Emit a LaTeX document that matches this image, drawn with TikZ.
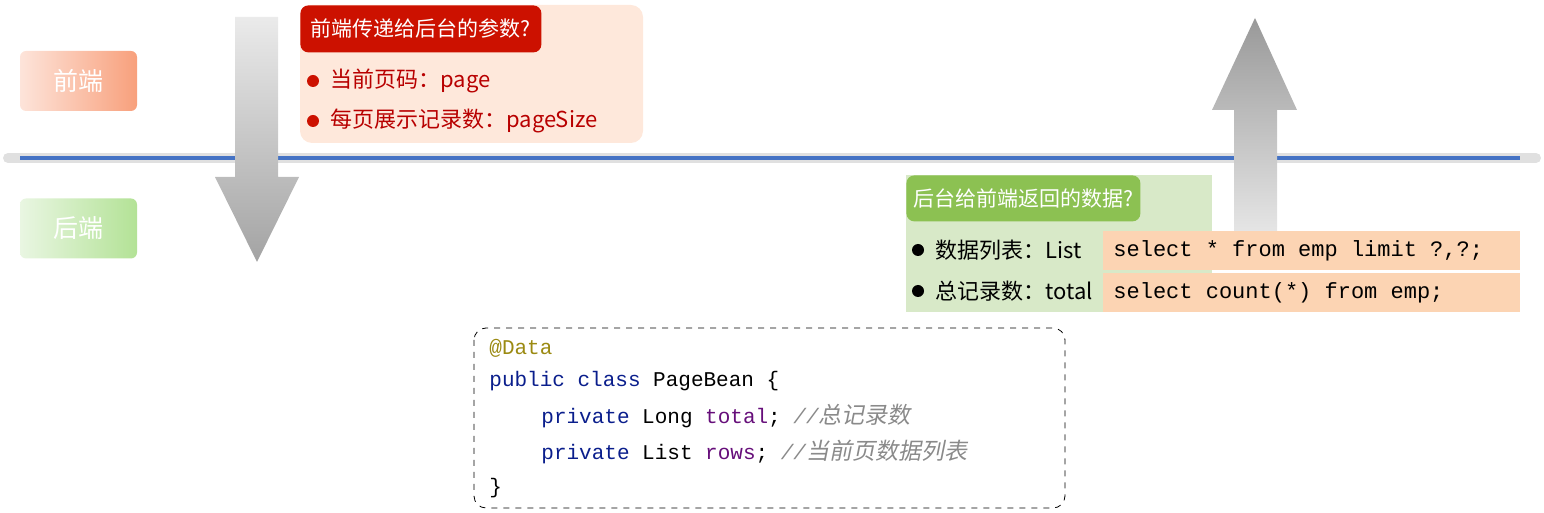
\documentclass[tikz,border=0pt]{standalone}
\usepackage{fontspec}
\setmainfont{Noto Sans CJK SC}
\newfontfamily\codefont{Liberation Mono}
\newfontfamily\cmtfont[FakeSlant=0.2]{Noto Sans CJK SC}
\usetikzlibrary{positioning}

\definecolor{frontL}{HTML}{FDE4DA}
\definecolor{frontR}{HTML}{F8A07C}
\definecolor{backL}{HTML}{E9F6E2}
\definecolor{backR}{HTML}{B3E296}
\definecolor{hdrred}{HTML}{CC1100}
\definecolor{reqfill}{HTML}{FEE8DB}
\definecolor{reqtext}{HTML}{B80000}
\definecolor{hdrgreen}{HTML}{8CC152}
\definecolor{respfill}{HTML}{D8E9C8}
\definecolor{sqlfill}{HTML}{FCD4B3}
\definecolor{lineblue}{HTML}{4472C4}
\definecolor{annot}{HTML}{9B8A12}
\definecolor{kwblue}{HTML}{0A1E8C}
\definecolor{field}{HTML}{660E7A}
\definecolor{cmtgray}{HTML}{8A8A8A}

\begin{document}
\begin{tikzpicture}[x=0.5pt,y=-0.5pt]

\tikzset{side/.style = {text=white, font=\fontsize{12.5}{14}\selectfont, minimum width=58.5pt, minimum height=30pt, rounded corners=3pt}}
\tikzset{head/.style = {text=white, font=\fontsize{10.5}{12}\selectfont, rounded corners=4pt, inner sep=0pt, anchor=north west}}
\tikzset{dot/.style = {circle, inner sep=0pt, minimum size=6pt}}
\tikzset{item/.style = {font=\fontsize{11}{13}\selectfont, right=2pt of #1}}
\tikzset{sql/.style = {fill=sqlfill, font=\codefont\fontsize{11}{13}\selectfont, anchor=north west, inner xsep=5pt, minimum height=19.5pt}}
\tikzset{code/.style = {font=\codefont\fontsize{10.5}{12}\selectfont, inner sep=0pt, anchor=west}}
\newcommand{\cmt}[1]{{\color{cmtgray}\itshape //\cmtfont\fontsize{11.5}{12}\selectfont #1}}
\newcommand{\sqlline}[1]{\makebox[198.5pt][l]{#1}}
\useasboundingbox (0,0) rectangle (1544,513);

%side labels
\node[side, left color=frontL, right color=frontR] (front) at (78.5,81) {前端};
\node[side, left color=backL, right color=backR] (back) at (78.5,228.5) {后端};

%dividing line
\draw[line width=5pt, black!12, line cap=round] (8,158) -- (1536,158);
\draw[line width=2pt, lineblue] (20,158) -- (1520,158);

%arrows
\shade[top color=black!8, bottom color=black!36] (235,17) -- (278,17) -- (278,177) -- (299,177) -- (257,262) -- (215,177) -- (235,177) -- cycle;
\shade[top color=black!40, bottom color=black!10] (1255,18) -- (1297,110) -- (1277,110) -- (1277,232) -- (1234,232) -- (1234,110) -- (1212,110) -- cycle;

%request panel
\fill[reqfill, rounded corners=6pt] (300,5) rectangle (643,143);
\node[head, fill=hdrred, minimum width=120.5pt, minimum height=23.5pt] (reqhead) at (300,5) {前端传递给后台的参数?};
\node[dot, fill=hdrred] (r1) at (313,81) {};
\node[item=r1, text=reqtext] (page) {当前页码：page};
\node[dot, fill=hdrred] (r2) at (313,121) {};
\node[item=r2, text=reqtext] (size) {每页展示记录数：pageSize};

%response panel
\fill[respfill] (906,175) rectangle (1212,312);
\node[head, fill=hdrgreen, minimum width=117pt, minimum height=23pt] (resphead) at (906,175) {后台给前端返回的数据?};
\node[dot, fill=black] (s1) at (918,250) {};
\node[item=s1] (list) {数据列表：List};
\node[dot, fill=black] (s2) at (918,291) {};
\node[item=s2] (total) {总记录数：total};
\node[sql] (q1) at (1103,231) {\sqlline{select * from emp limit ?,?;}};
\node[sql] (q2) at (1103,273) {\sqlline{select count(*) from emp;}};

%PageBean class
\draw[dashed, rounded corners=6pt] (474,328) rectangle (1065,508);
\node[code, text=annot] (c1) at (489,348) {@Data};
\node[code] (c2) at (489,381) {\color{kwblue}public class \color{black}PageBean \{};
\node[code] (c3) at (541,416) {\color{kwblue}private \color{black}Long \color{field}total\color{black}; \cmt{总记录数}};
\node[code] (c4) at (541,452) {\color{kwblue}private \color{black}List \color{field}rows\color{black}; \cmt{当前页数据列表}};
\node[code] (c5) at (489,488) {\}};

\end{tikzpicture}
\end{document}
